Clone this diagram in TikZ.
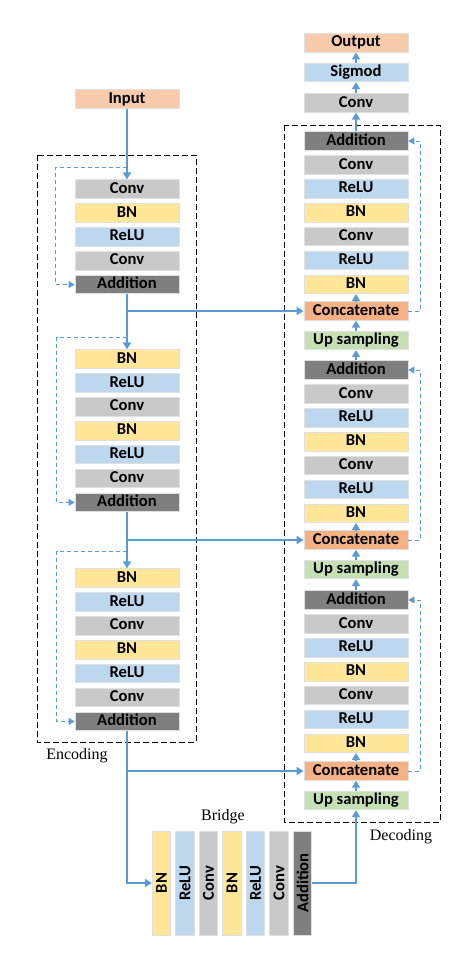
\documentclass[tikz,border=0pt]{standalone}
\usepackage{fontspec}
\setmainfont{Liberation Serif}
\newfontfamily\blkfont{Carlito}
\usetikzlibrary{arrows.meta, positioning, calc}
\definecolor{ioColor}{HTML}{F8CBAD}
\definecolor{convColor}{HTML}{C9C9C9}
\definecolor{bnColor}{HTML}{FFE699}
\definecolor{reluColor}{HTML}{BDD7EE}
\definecolor{addColor}{HTML}{7F7F7F}
\definecolor{catColor}{HTML}{F4B183}
\definecolor{upColor}{HTML}{C5E0B4}
\definecolor{lineColor}{HTML}{5B9BD5}

\begin{document}
\begin{tikzpicture}[
        x=0.5pt, y=-0.5pt,
        node distance=2.3pt,
        blk/.style={rectangle, draw=black!12, line width=0.4pt, minimum width=52pt, minimum height=9.25pt, inner sep=0pt, text height=5.7pt, text depth=1.6pt, font=\blkfont\bfseries\fontsize{8.3}{9}\selectfont},
        vblk/.style={blk, minimum width=9.25pt, minimum height=52pt, text height=, text depth=},
        conv/.style={fill=convColor},
        bn/.style={fill=bnColor},
        relu/.style={fill=reluColor},
        addn/.style={fill=addColor},
        io/.style={fill=ioColor},
        cat/.style={fill=catColor},
        up/.style={fill=upColor},
        arrow/.style={-{Triangle[length=3.5pt,width=4pt]}, line width=0.9pt, draw=lineColor},
        skip/.style={-{Triangle[length=3pt,width=3.5pt]}, line width=0.5pt, draw=lineColor, dash pattern=on 2pt off 1.5pt},
        frame/.style={draw=black, line width=0.5pt, dash pattern=on 3pt off 1.5pt},
        lbl/.style={font=\fontsize{8}{9}\selectfont}
    ]
        \useasboundingbox (0,0) rectangle (464,955);

        % Encoding
        \draw[frame] (37,155) rectangle (196,742);
        \node[blk, io] (input) at (127,99) {Input};

        \node[blk, conv] (e1a) at (127,189) {Conv};
        \node[blk, bn, below=of e1a] (e1b) {BN};
        \node[blk, relu, below=of e1b] (e1c) {ReLU};
        \node[blk, conv, below=of e1c] (e1d) {Conv};
        \node[blk, addn, below=of e1d] (e1add) {Addition};

        \node[blk, bn] (e2a) at (127,359) {BN};
        \node[blk, relu, below=of e2a] (e2b) {ReLU};
        \node[blk, conv, below=of e2b] (e2c) {Conv};
        \node[blk, bn, below=of e2c] (e2d) {BN};
        \node[blk, relu, below=of e2d] (e2e) {ReLU};
        \node[blk, conv, below=of e2e] (e2f) {Conv};
        \node[blk, addn, below=of e2f] (e2add) {Addition};

        \node[blk, bn] (e3a) at (127,578) {BN};
        \node[blk, relu, below=of e3a] (e3b) {ReLU};
        \node[blk, conv, below=of e3b] (e3c) {Conv};
        \node[blk, bn, below=of e3c] (e3d) {BN};
        \node[blk, relu, below=of e3d] (e3e) {ReLU};
        \node[blk, conv, below=of e3e] (e3f) {Conv};
        \node[blk, addn, below=of e3f] (e3add) {Addition};

        \node[lbl] (enclabel) at (77,756) {Encoding};

        % Bridge
        \node[vblk, bn] (br1) at (161.5,883) {\rotatebox{90}{BN}};
        \node[vblk, relu, right=2.1pt of br1] (br2) {\rotatebox{90}{ReLU}};
        \node[vblk, conv, right=2.1pt of br2] (br3) {\rotatebox{90}{Conv}};
        \node[vblk, bn, right=2.1pt of br3] (br4) {\rotatebox{90}{BN}};
        \node[vblk, relu, right=2.1pt of br4] (br5) {\rotatebox{90}{ReLU}};
        \node[vblk, conv, right=2.1pt of br5] (br6) {\rotatebox{90}{Conv}};
        \node[vblk, addn, right=2.1pt of br6] (br7) {\rotatebox{90}{Addition}};
        \node[lbl] (brlabel) at (223,817) {Bridge};

        % Decoding
        \draw[frame] (284,125) rectangle (440,822);
        \node[blk, addn] (d1add) at (356,141) {Addition};
        \node[blk, conv, below=of d1add] (d1a) {Conv};
        \node[blk, relu, below=of d1a] (d1b) {ReLU};
        \node[blk, bn, below=of d1b] (d1c) {BN};
        \node[blk, conv, below=of d1c] (d1d) {Conv};
        \node[blk, relu, below=of d1d] (d1e) {ReLU};
        \node[blk, bn, below=of d1e] (d1f) {BN};
        \node[blk, cat] (cat1) at (356,311) {Concatenate};
        \node[blk, up, below=5.1pt of cat1] (up1) {Up sampling};

        \node[blk, addn] (d2add) at (356,370) {Addition};
        \node[blk, conv, below=of d2add] (d2a) {Conv};
        \node[blk, relu, below=of d2a] (d2b) {ReLU};
        \node[blk, bn, below=of d2b] (d2c) {BN};
        \node[blk, conv, below=of d2c] (d2d) {Conv};
        \node[blk, relu, below=of d2d] (d2e) {ReLU};
        \node[blk, bn, below=of d2e] (d2f) {BN};
        \node[blk, cat] (cat2) at (356,540) {Concatenate};
        \node[blk, up, below=5.1pt of cat2] (up2) {Up sampling};

        \node[blk, addn] (d3add) at (356,600) {Addition};
        \node[blk, conv, below=of d3add] (d3a) {Conv};
        \node[blk, relu, below=of d3a] (d3b) {ReLU};
        \node[blk, bn, below=of d3b] (d3c) {BN};
        \node[blk, conv, below=of d3c] (d3d) {Conv};
        \node[blk, relu, below=of d3d] (d3e) {ReLU};
        \node[blk, bn, below=of d3e] (d3f) {BN};
        \node[blk, cat] (cat3) at (356,771) {Concatenate};
        \node[blk, up, below=5.1pt of cat3] (up3) {Up sampling};

        \node[blk, conv, above=9.35pt of d1add] (dconv) {Conv};
        \node[blk, relu, above=5.6pt of dconv] (sig) {Sigmod};
        \node[blk, io, above=5.2pt of sig] (output) {Output};
        \node[lbl] (declabel) at (401,837) {Decoding};

        % encoder connections
        \draw[arrow] (input) -- (e1a);
        \draw[arrow] (e1add) -- (e2a);
        \draw[arrow] (e2add) -- (e3a);
        \draw[arrow] (e3add.south) |- (br1.west);
        \draw[arrow] (e1add.south |- cat1.west) -- (cat1.west);
        \draw[arrow] (e2add.south |- cat2.west) -- (cat2.west);
        \draw[arrow] (e3add.south |- cat3.west) -- (cat3.west);
        \coordinate (s1) at ([yshift=6pt]e1a.north);
        \coordinate (s2) at ([yshift=6pt]e2a.north);
        \coordinate (s3) at ([yshift=8.5pt]e3a.north);
        \draw[skip] (s1) -| ([xshift=-9.5pt]e1add.west) -- (e1add.west);
        \draw[skip] (s2) -| ([xshift=-9pt]e2add.west) -- (e2add.west);
        \draw[skip] (s3) -| ([xshift=-9pt]e3add.west) -- (e3add.west);

        % decoder connections
        \draw[arrow] (br7.east) -| (up3.south);
        \draw[arrow] (up3) -- (cat3);
        \draw[arrow] (cat3) -- (d3f);
        \draw[arrow] (d3add) -- (up2);
        \draw[arrow] (up2) -- (cat2);
        \draw[arrow] (cat2) -- (d2f);
        \draw[arrow] (d2add) -- (up1);
        \draw[arrow] (up1) -- (cat1);
        \draw[arrow] (cat1) -- (d1f);
        \draw[arrow] (d1add) -- (dconv);
        \draw[arrow] (dconv) -- (sig);
        \draw[arrow] (sig) -- (output);
        \draw[skip] (cat1.east) -| ([xshift=6pt]d1add.east) -- (d1add.east);
        \draw[skip] (cat2.east) -| ([xshift=6pt]d2add.east) -- (d2add.east);
        \draw[skip] (cat3.east) -| ([xshift=6pt]d3add.east) -- (d3add.east);
    \end{tikzpicture}
\end{document}
